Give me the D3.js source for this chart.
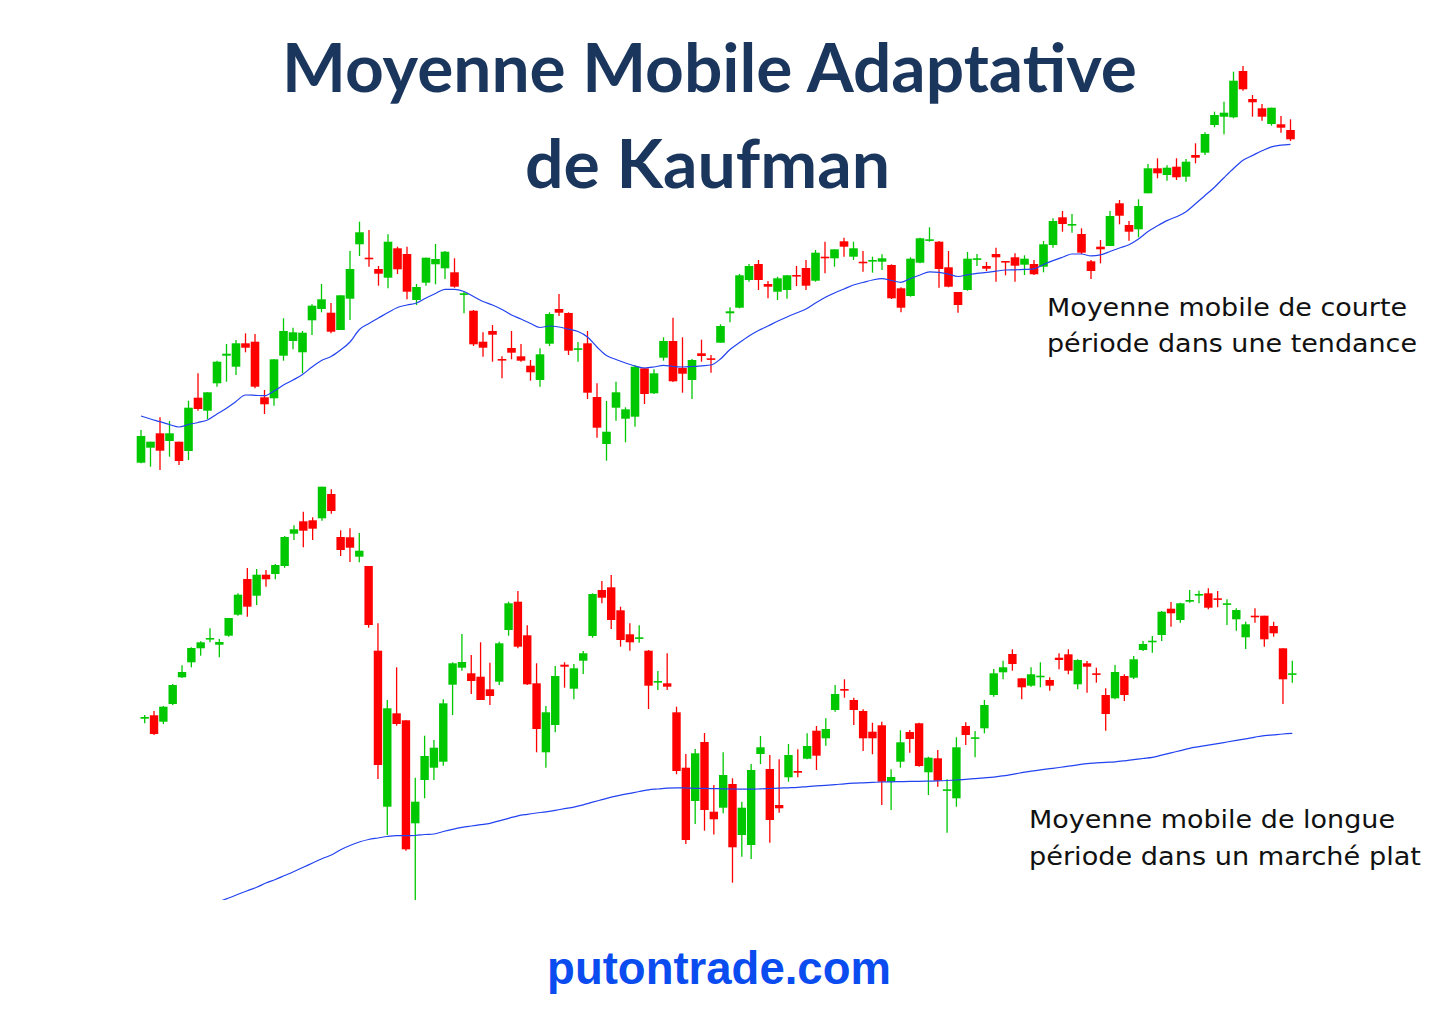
<!DOCTYPE html>
<html><head><meta charset="utf-8">
<script src="https://cdn.jsdelivr.net/npm/d3@7"></script>
<style>html,body{margin:0;padding:0;background:#fff;}svg{display:block}</style>
</head><body>
<script>
// ---- Top panel: short-period AMA in a trend ----
const topOpen = [53.73,55.23,56.67,55.90,55.83,54.90,60.23,58.93,61.67,64.43,
63.33,65.67,65.83,60.27,60.17,64.43,65.90,64.77,67.97,69.10,
68.73,67.00,70.13,75.57,74.23,73.10,72.23,75.17,74.60,70.00,
71.73,73.57,73.17,72.77,70.57,68.93,65.83,66.90,64.10,65.20,
64.37,63.43,62.00,65.63,69.10,68.70,65.07,65.67,60.30,55.60,
59.23,58.13,58.33,63.17,60.67,64.23,65.90,63.20,62.00,64.67,
64.17,65.73,68.67,69.23,72.00,73.60,71.60,70.83,71.00,72.50,
73.20,71.93,74.33,74.17,75.87,74.33,73.83,73.90,73.83,73.50,
71.17,70.40,73.73,75.97,75.83,73.27,70.80,71.00,74.10,73.40,
74.60,73.90,74.27,73.53,73.60,73.33,75.50,78.27,77.53,76.60,
73.87,75.33,75.40,79.67,77.50,77.07,80.67,83.17,82.50,83.33,
82.33,84.50,84.73,87.50,88.33,88.27,92.90,90.10,89.17,87.60,
87.57,87.00];
const topHigh = [57.00,55.83,58.27,57.90,55.83,59.93,62.67,60.77,63.93,65.60,
66.00,66.67,66.60,61.00,64.07,68.17,67.23,66.90,69.57,71.60,
69.70,70.47,74.90,77.83,77.00,73.40,76.57,75.33,75.33,71.60,
74.23,75.60,74.90,74.17,70.83,69.00,66.77,67.50,64.37,66.90,
65.60,64.00,65.17,68.77,70.60,68.77,65.80,66.90,61.67,59.90,
61.83,59.27,63.50,63.23,63.07,66.27,68.23,66.27,64.10,66.03,
64.50,67.57,69.27,72.60,73.60,74.00,71.90,72.33,72.50,73.40,
74.00,75.00,75.83,75.07,76.23,75.83,74.90,74.33,74.57,73.57,
71.27,74.27,76.23,77.27,75.90,74.90,70.80,74.80,74.60,73.80,
75.23,73.90,74.67,74.47,74.00,75.90,78.17,78.90,78.60,77.17,
74.00,76.00,78.90,80.00,77.90,80.07,83.60,84.17,83.47,84.17,
84.10,85.67,86.77,88.83,89.83,92.83,93.40,90.50,89.60,89.23,
88.40,88.07];
const topLow = [53.67,53.33,53.00,54.33,53.50,54.00,58.93,58.10,61.33,61.83,
62.50,64.77,61.17,58.60,59.43,63.93,65.07,62.67,66.50,68.77,
66.67,67.00,68.00,74.40,73.33,71.43,71.17,72.60,70.07,69.50,
71.43,71.57,72.10,71.23,68.67,65.40,64.33,63.83,62.17,64.07,
63.83,61.93,61.33,65.40,68.40,64.50,63.83,60.10,56.23,53.93,
57.93,55.77,57.33,59.60,60.60,63.93,61.80,60.73,60.10,63.83,
62.73,65.73,67.77,69.17,71.83,71.00,70.17,70.00,70.13,71.40,
71.00,71.83,72.67,73.33,74.33,74.00,72.83,72.73,73.00,70.10,
68.77,70.33,73.67,75.83,71.23,71.27,68.73,70.93,73.40,72.90,
71.83,72.47,71.83,72.50,72.50,72.77,75.23,76.83,76.73,74.60,
72.10,73.67,75.40,77.57,75.93,76.27,80.67,82.17,81.93,82.00,
81.83,83.67,84.50,87.27,86.57,88.17,90.93,88.33,87.93,87.43,
86.73,85.90];
const topClose = [56.40,55.83,54.93,56.67,53.90,59.23,59.10,60.77,63.83,64.63,
65.67,65.23,61.33,59.57,64.07,66.90,66.77,66.73,69.43,70.07,
66.83,70.47,73.10,76.77,74.13,72.63,75.83,73.07,70.83,71.30,
74.23,74.10,74.83,71.33,70.67,65.57,65.23,66.53,63.97,64.73,
63.93,62.77,64.57,68.60,68.73,64.93,65.17,60.73,57.23,56.83,
60.77,59.07,63.33,60.60,62.67,65.90,61.87,62.63,64.00,64.40,
64.07,67.40,68.87,72.47,73.40,72.00,71.33,72.17,72.47,72.40,
71.43,74.73,74.23,75.07,75.33,75.17,73.73,74.00,74.17,70.17,
69.23,74.13,76.17,76.07,73.10,71.33,69.50,74.13,74.17,73.13,
74.27,73.80,73.43,74.13,72.57,75.57,77.90,77.60,77.60,74.73,
72.90,75.07,78.40,78.43,76.83,79.40,83.17,82.67,83.23,82.27,
83.83,84.23,86.60,88.50,88.73,91.93,91.07,89.77,88.33,89.23,
87.23,86.07];
const topMA = [58.40,58.10,57.83,57.55,57.30,57.55,57.75,58.00,58.60,59.17,
59.85,60.50,60.47,60.43,60.90,61.50,62.00,62.55,63.30,63.95,
64.35,65.00,65.80,67.05,67.65,68.20,68.75,69.25,69.50,69.70,
70.20,70.65,71.07,71.07,70.85,70.35,69.85,69.50,69.05,68.50,
68.10,67.65,67.25,67.40,67.30,67.08,66.85,66.30,65.30,64.45,
64.05,63.70,63.40,63.20,63.30,63.47,63.35,63.30,63.35,63.42,
63.50,64.10,65.05,65.75,66.40,66.95,67.40,67.87,68.30,68.70,
69.10,69.70,70.25,70.70,71.10,71.50,71.75,72.00,72.14,71.95,
71.77,72.15,72.50,72.82,72.77,72.58,72.35,72.52,72.67,72.76,
72.88,73.00,73.02,73.06,73.12,73.55,73.94,74.28,74.60,74.60,
74.41,74.52,74.85,75.20,75.53,76.10,76.84,77.42,77.94,78.33,
78.82,79.62,80.45,81.28,82.23,83.15,83.98,84.45,84.92,85.32,
85.48,85.57];

// ---- Bottom panel: long-period AMA in a flat market ----
const botOpen = [28.13,28.47,27.83,29.60,32.27,33.77,35.17,36.10,35.53,36.43,
38.53,42.10,40.43,42.53,42.60,43.40,46.63,47.87,47.97,48.17,
50.60,46.30,46.27,44.33,43.40,34.93,19.33,28.67,27.97,17.67,
22.00,23.23,23.83,31.53,33.23,32.67,32.33,31.07,31.83,37.00,
39.83,36.47,31.67,24.77,27.50,33.53,31.13,33.93,36.40,41.00,
41.27,38.97,36.57,36.13,34.93,31.77,31.67,28.77,23.23,19.90,
25.80,18.83,19.23,21.60,16.50,15.50,24.60,23.10,19.50,22.27,
22.90,24.13,26.93,26.17,29.00,31.10,30.00,28.90,26.83,27.47,
21.83,23.83,26.80,27.67,22.77,24.17,20.93,20.17,27.40,26.17,
27.17,30.50,32.77,34.60,32.17,31.43,32.33,32.00,34.23,34.57,
31.57,33.67,32.67,30.50,30.17,32.40,32.23,35.00,35.83,36.50,
39.13,38.00,39.83,40.50,40.67,40.17,39.57,38.07,36.27,38.43,
38.43,37.40,35.17,32.57];
const botHigh = [28.50,28.90,29.40,31.60,33.47,35.27,35.87,37.17,36.10,38.20,
40.67,43.20,43.10,43.00,43.60,46.40,47.47,48.83,48.27,51.33,
51.07,46.97,47.17,46.70,43.40,37.67,30.00,33.27,27.97,22.23,
26.43,26.00,30.07,33.77,36.60,34.50,35.77,33.73,35.83,39.83,
40.90,37.47,33.67,29.40,33.40,33.77,33.60,34.90,40.67,41.90,
42.50,39.33,37.67,37.47,35.00,32.90,34.67,29.33,24.60,25.10,
26.70,21.50,24.77,22.17,19.83,23.60,26.40,24.50,24.07,25.60,
25.07,26.67,27.40,28.17,31.50,32.07,30.23,29.07,27.73,27.83,
23.07,26.97,27.00,27.73,24.33,25.00,22.07,26.27,27.77,26.90,
30.00,33.10,33.93,35.07,32.17,33.27,33.77,32.27,34.67,35.07,
34.07,33.90,33.23,31.17,33.50,32.57,34.40,35.90,36.40,38.90,
39.80,39.73,41.00,40.93,41.17,40.90,40.07,39.17,37.83,39.17,
38.43,37.83,35.17,33.93];
const botLow = [27.67,26.50,27.60,29.50,32.20,33.27,34.43,35.77,34.27,36.33,
38.43,38.33,39.50,41.33,42.07,43.23,46.00,45.27,46.00,47.93,
48.63,44.40,43.80,43.77,37.23,22.10,16.50,27.43,14.93,10.00,
20.17,22.00,23.43,28.50,32.93,30.60,30.00,29.50,31.50,36.43,
35.17,31.50,24.77,23.23,26.77,31.23,30.07,32.60,36.23,39.67,
37.10,35.33,34.93,35.73,29.10,31.00,31.00,22.57,15.60,17.60,
16.93,16.55,18.67,11.73,14.33,14.10,23.60,15.73,18.73,21.83,
22.27,24.07,23.00,25.43,28.83,30.23,27.50,24.90,24.57,19.50,
19.00,23.23,24.73,23.33,20.50,21.33,16.73,19.33,25.50,24.27,
26.67,30.33,32.07,32.93,30.07,31.33,31.27,30.93,33.07,32.57,
31.07,30.73,31.73,26.93,30.07,29.90,32.10,34.90,34.73,35.90,
37.33,37.73,39.73,39.67,39.07,39.27,37.50,36.93,35.10,37.73,
35.33,36.33,29.60,31.73];
const botClose = [28.30,26.60,29.33,31.50,32.80,35.20,35.77,36.20,35.80,38.20,
40.53,39.33,42.53,42.07,43.50,46.30,47.07,46.93,47.13,51.33,
48.90,45.00,45.23,44.93,37.50,23.50,29.17,27.60,15.07,19.83,
24.40,25.23,29.67,33.67,33.80,31.90,30.00,30.40,35.67,39.67,
35.33,31.57,27.10,28.77,32.40,33.33,33.17,34.67,40.60,40.23,
38.00,36.00,35.77,36.27,31.43,31.90,31.33,22.90,16.00,24.67,
19.00,18.07,22.50,15.27,19.23,23.00,25.27,18.00,19.17,24.50,
22.73,25.40,24.43,27.10,30.60,30.93,29.00,26.17,26.17,21.83,
22.30,25.77,26.10,23.40,24.23,21.93,21.07,25.27,26.50,26.27,
29.50,32.67,33.27,33.60,31.27,32.57,32.43,31.43,34.00,32.93,
34.00,33.33,32.57,28.60,32.80,30.50,34.07,35.60,35.93,38.83,
38.67,39.67,40.00,40.60,39.23,40.10,39.67,39.00,37.57,38.27,
36.07,36.67,32.07,32.67];
const botMA = [null,null,null,null,null,null,null,null,9.85,10.20,
10.57,10.93,11.27,11.70,12.05,12.45,12.85,13.27,13.70,14.12,
14.50,15.03,15.45,15.80,16.05,16.20,16.35,16.43,16.43,16.45,
16.55,16.60,16.85,17.07,17.26,17.40,17.53,17.67,17.92,18.17,
18.42,18.57,18.70,18.82,18.97,19.13,19.28,19.52,19.78,20.03,
20.28,20.48,20.66,20.85,21.01,21.10,21.18,21.22,21.20,21.17,
21.16,21.14,21.12,21.10,21.09,21.08,21.11,21.15,21.19,21.22,
21.26,21.34,21.41,21.47,21.54,21.62,21.68,21.72,21.76,21.80,
21.82,21.84,21.86,21.87,21.89,21.91,21.95,22.00,22.07,22.14,
22.21,22.29,22.42,22.57,22.73,22.89,23.01,23.13,23.25,23.38,
23.51,23.64,23.71,23.77,23.82,23.92,24.04,24.15,24.26,24.48,
24.71,24.94,25.17,25.33,25.49,25.64,25.80,25.96,26.12,26.29,
26.44,26.52,26.60,26.66];

const titleLines = ["Moyenne Mobile Adaptative", "de Kaufman"];
const noteTop = ["Moyenne mobile de courte", "période dans une tendance"];
const noteBot = ["Moyenne mobile de longue", "période dans un marché plat"];
const siteLabel = "putontrade.com";

const W = 1440, H = 1018;
const UP = "#00c800", DOWN = "#ff0000", MA_COLOR = "#2343f0";
const svg = d3.select("body").append("svg").attr("width", W).attr("height", H);

function drawPanel(cfg, id) {
  const n = cfg.open.length;
  const x = d3.scaleLinear().domain([0, n - 1]).range(cfg.xRange);
  const y = d3.scaleLinear().domain(cfg.yDomain).range(cfg.yRange);
  const data = d3.range(n).map(i => ({ i, o: cfg.open[i], h: cfg.high[i], l: cfg.low[i], c: cfg.close[i] }));
  svg.append("clipPath").attr("id", id).append("rect")
    .attr("x", 0).attr("y", cfg.yRange[1]).attr("width", W).attr("height", cfg.yRange[0] - cfg.yRange[1]);
  const g = svg.append("g").attr("clip-path", `url(#${id})`);
  const bw = cfg.bodyW;
  const c = g.selectAll("g.candle").data(data).join("g").attr("class", "candle");
  c.append("line")
    .attr("x1", d => x(d.i)).attr("x2", d => x(d.i))
    .attr("y1", d => y(d.h)).attr("y2", d => y(d.l))
    .attr("stroke", d => d.c >= d.o ? UP : DOWN).attr("stroke-width", 1.3);
  c.append("rect")
    .attr("x", d => x(d.i) - bw / 2)
    .attr("width", bw)
    .attr("y", d => y(Math.max(d.o, d.c)))
    .attr("height", d => Math.max(1.6, Math.abs(y(d.o) - y(d.c))))
    .attr("fill", d => d.c >= d.o ? UP : DOWN);
  const line = d3.line().defined(d => d != null).x((d, i) => x(i)).y(d => y(d)).curve(d3.curveMonotoneX);
  g.append("path").attr("d", line(cfg.ma)).attr("fill", "none")
    .attr("stroke", MA_COLOR).attr("stroke-width", 1.2);
}

drawPanel({ open: topOpen, high: topHigh, low: topLow, close: topClose, ma: topMA,
  xRange: [141, 1290.5], yDomain: [53, 94], yRange: [470, 60], bodyW: 8.6 }, "clipTop");
drawPanel({ open: botOpen, high: botHigh, low: botLow, close: botClose, ma: botMA,
  xRange: [144.7, 1292.3], yDomain: [10, 52], yRange: [900, 480], bodyW: 8.4 }, "clipBot");

// Title
const title = svg.append("g").attr("fill", "#1b365d")
  .style("font-family", "Lato, 'Open Sans', sans-serif").style("font-weight", 700);
title.append("text").attr("x", 709.5).attr("y", 92).attr("text-anchor", "middle")
  .attr("font-size", 66).attr("textLength", 855).attr("lengthAdjust", "spacingAndGlyphs").text(titleLines[0]);
title.append("text").attr("x", 707.5).attr("y", 188).attr("text-anchor", "middle")
  .attr("font-size", 66).attr("textLength", 365).attr("lengthAdjust", "spacingAndGlyphs").text(titleLines[1]);

// Notes
const notes = svg.append("g").attr("fill", "#111")
  .style("font-family", "'DejaVu Sans', Verdana, sans-serif").attr("font-size", 25);
const topLens = [360, 370], botLens = [366, 392];
noteTop.forEach((t, k) => notes.append("text").attr("x", 1047).attr("y", 316 + k * 36)
  .attr("textLength", topLens[k]).attr("lengthAdjust", "spacingAndGlyphs").text(t));
noteBot.forEach((t, k) => notes.append("text").attr("x", 1029).attr("y", 828 + k * 37)
  .attr("textLength", botLens[k]).attr("lengthAdjust", "spacingAndGlyphs").text(t));

svg.append("text").attr("x", 719).attr("y", 984).attr("text-anchor", "middle")
  .style("font-family", "'Liberation Sans', Arial, sans-serif").style("font-weight", 700)
  .attr("font-size", 45.5).attr("fill", "#0b4cf0").text(siteLabel);
</script>
</body></html>
